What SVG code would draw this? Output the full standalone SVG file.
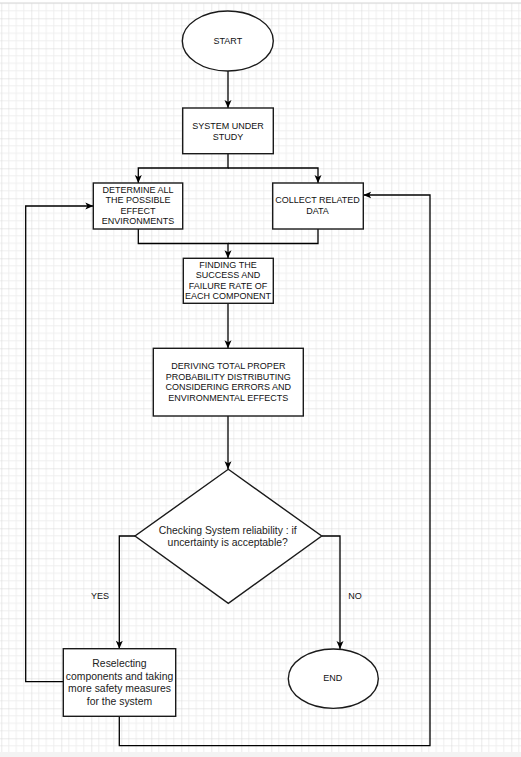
<svg xmlns="http://www.w3.org/2000/svg" width="521" height="757" viewBox="0 0 521 757">
<style>
.node{fill:#fff;stroke:#1a1a1a;stroke-width:1.4}
.edge{fill:none;stroke:#000;stroke-width:1.3}
.t{font-family:"Liberation Sans",Arial,sans-serif;font-size:9px;fill:#111;text-anchor:middle}
.t2{font-family:"Liberation Sans",Arial,sans-serif;font-size:10.4px;fill:#222;text-anchor:middle}
.lbl{font-family:"Liberation Sans",Arial,sans-serif;font-size:9px;fill:#111}
</style>
<defs>
<pattern id="grid" patternUnits="userSpaceOnUse" x="1.3" y="18.3" width="30" height="30">
<path d="M7.5,0V30M15,0V30M22.5,0V30M0,7.5H30M0,15H30M0,22.5H30" stroke="#efefef" stroke-width="1" fill="none"/>
<path d="M0,0V30M0,0H30" stroke="#d5d5d5" stroke-width="1" fill="none"/>
</pattern>
<marker id="arr" markerUnits="userSpaceOnUse" markerWidth="10" markerHeight="10" refX="8" refY="4" orient="auto">
<path d="M0,0.5 L8,4 L0,7.5 L2,4 z" fill="#000"/>
</marker>
</defs>
<rect width="521" height="757" fill="#fff"/>
<rect x="0" y="3" width="521" height="749" fill="url(#grid)"/>
<line x1="0" y1="3" x2="521" y2="3" stroke="#d5d5d5" stroke-width="1"/>
<rect x="0" y="752" width="521" height="5" fill="#f3f3f3"/>

<g id="connectors">
<path class="edge" d="M228,71V108" marker-end="url(#arr)"/>
<path class="edge" d="M228,154V168H138.3V183" marker-end="url(#arr)"/>
<path class="edge" d="M228,168H318V183" marker-end="url(#arr)"/>
<path class="edge" d="M138.3,229V243.5H228V258.3" marker-end="url(#arr)"/>
<path class="edge" d="M318,229V243.5H228"/>
<path class="edge" d="M228,303.3V348.3" marker-end="url(#arr)"/>
<path class="edge" d="M228,416V469.3" marker-end="url(#arr)"/>
<path class="edge" d="M135,536H119.3V648.7" marker-end="url(#arr)"/>
<path class="edge" d="M321.7,536H340V649" marker-end="url(#arr)"/>
<path class="edge" d="M63.3,681.7H25.7V206H93.3" marker-end="url(#arr)"/>
<path class="edge" d="M119.3,716.3V745.7H430V195H363.3" marker-end="url(#arr)"/>
</g>

<g id="start">
<ellipse class="node" cx="227.8" cy="41" rx="45.5" ry="30"/>
<text class="t" x="227.8" y="44.2">START</text>
</g>
<g id="system">
<rect class="node" x="182.7" y="108" width="90.6" height="45.7"/>
<text class="t" x="228" y="129">SYSTEM UNDER</text>
<text class="t" x="228" y="139.6">STUDY</text>
</g>
<g id="determine">
<rect class="node" x="93.3" y="183" width="89.4" height="46"/>
<text class="t" x="138" y="192.6">DETERMINE ALL</text>
<text class="t" x="138" y="203.2">THE POSSIBLE</text>
<text class="t" x="138" y="213.8">EFFECT</text>
<text class="t" x="138" y="224.4">ENVIRONMENTS</text>
</g>
<g id="collect">
<rect class="node" x="272.7" y="183" width="90.6" height="46"/>
<text class="t" x="317.5" y="203.3">COLLECT RELATED</text>
<text class="t" x="317.5" y="213.9">DATA</text>
</g>
<g id="finding">
<rect class="node" x="183.3" y="258.3" width="90" height="45"/>
<text class="t" x="228" y="267.6">FINDING THE</text>
<text class="t" x="228" y="278.2">SUCCESS AND</text>
<text class="t" x="228" y="288.8">FAILURE RATE OF</text>
<text class="t" x="228" y="299.4">EACH COMPONENT</text>
</g>
<g id="deriving">
<rect class="node" x="153.3" y="348.3" width="150" height="67.7"/>
<text class="t" x="228.3" y="369">DERIVING TOTAL PROPER</text>
<text class="t" x="228.3" y="379.6">PROBABILITY DISTRIBUTING</text>
<text class="t" x="228.3" y="390.2">CONSIDERING ERRORS AND</text>
<text class="t" x="228.3" y="400.8">ENVIRONMENTAL EFFECTS</text>
</g>
<g id="decision">
<polygon class="node" points="228.3,469.3 321.7,536 228.3,603.3 135,536"/>
<text class="t2" x="227.7" y="533.8">Checking System reliability : if</text>
<text class="t2" x="227.7" y="546.1">uncertainty is acceptable?</text>
</g>
<g id="reselect">
<rect class="node" x="63.3" y="648.7" width="112.4" height="67.6"/>
<text class="t2" x="119.5" y="667">Reselecting</text>
<text class="t2" x="119.5" y="679.6">components and taking</text>
<text class="t2" x="119.5" y="692.2">more safety measures</text>
<text class="t2" x="119.5" y="704.8">for the system</text>
</g>
<g id="end">
<ellipse class="node" cx="333.3" cy="678.7" rx="45" ry="29.7"/>
<text class="t" x="332.7" y="681">END</text>
</g>
<g id="labels">
<text class="lbl" x="91" y="599">YES</text>
<text class="lbl" x="348.3" y="599">NO</text>
</g>
</svg>
